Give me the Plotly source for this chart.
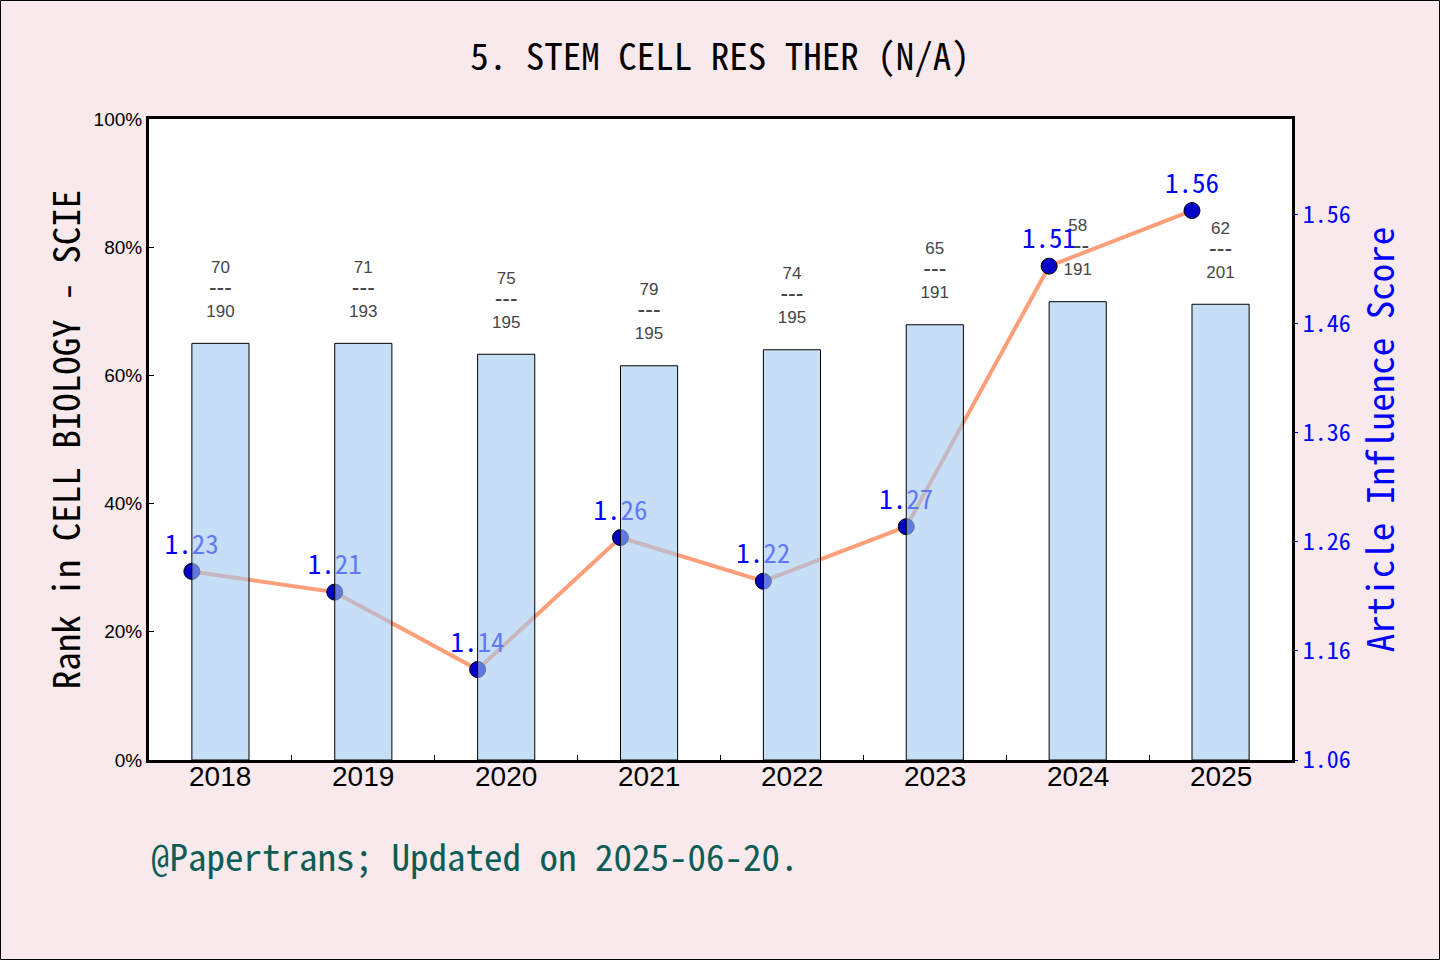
import plotly.graph_objects as go

# ---- data ----
years = ["2018", "2019", "2020", "2021", "2022", "2023", "2024", "2025"]
rank_pct = [65.0, 65.0, 63.3, 61.5, 64.0, 67.9, 71.5, 71.1]
ranks = [70, 71, 75, 79, 74, 65, 58, 62]
totals = [190, 193, 195, 195, 195, 191, 191, 201]
ais = [1.233, 1.214, 1.143, 1.264, 1.224, 1.274, 1.513, 1.564]
ais_ticks = [1.06, 1.16, 1.26, 1.36, 1.46, 1.56]
pct_ticks = [0, 20, 40, 60, 80, 100]

title_text = "5. STEM CELL RES THER (N/A)"
footer_text = "@Papertrans; Updated on 2025-06-20."

MONO = "Noto Sans Mono CJK SC, DejaVu Sans Mono, monospace"
SANS = "Liberation Sans, Arial, sans-serif"

L, R, T, B = 149, 148, 119, 200
W, H = 1440, 960
pw, ph = W - L - R, H - T - B

rank_text = [f"{r}<br><span style='font-size:23px'>---</span><br>{t}" for r, t in zip(ranks, totals)]

fig = go.Figure()

# rank fraction labels (bottom layer)
fig.add_trace(go.Scatter(
    x=years, y=rank_pct, xaxis="x", yaxis="y",
    mode="markers+text", text=rank_text, textposition="top center",
    marker=dict(size=34, opacity=0),
    textfont=dict(family=SANS, size=17, color="#454545"),
    hoverinfo="skip", showlegend=False,
))

# Article influence score line (middle layer)
fig.add_trace(go.Scatter(
    x=years, y=ais, xaxis="x2", yaxis="y2",
    mode="lines+markers+text",
    line=dict(color="#ff9f7a", width=4),
    marker=dict(size=16, color="#0000c8", line=dict(color="black", width=1)),
    texttemplate="%{y:.2f}", textposition="top center",
    textfont=dict(family=MONO, size=27, color="#0000ff"),
    showlegend=False,
))

# rank bars (top layer, semi transparent)
fig.add_trace(go.Bar(
    x=years, y=rank_pct, xaxis="x3", yaxis="y3",
    width=0.4,
    marker=dict(color="rgba(160,200,240,0.6)", line=dict(color="black", width=1)),
    showlegend=False,
))

# year labels placed on the category axis (index of each category)
year_annots = [dict(
    text=yr, x=i, xref="x", y=0, yref="paper", yanchor="middle", yshift=-16,
    showarrow=False, font=dict(family=SANS, size=28, color="black"),
) for i, yr in enumerate(years)]

fig.update_layout(
    width=W, height=H,
    margin=dict(l=L, r=R, t=T, b=B),
    paper_bgcolor="#f8e9ec",
    plot_bgcolor="white",
    title=dict(text=title_text, x=0.5, xanchor="center", y=1 - 57 / H, yanchor="middle",
               yref="container", font=dict(family=MONO, size=37, color="black")),
    xaxis=dict(
        type="category", categoryarray=years, range=[-0.5, 7.5],
        showline=True, linewidth=3, linecolor="black", mirror=True,
        ticks="inside", tickson="boundaries", ticklen=5, tickcolor="black",
        showticklabels=False,
        showgrid=False, zeroline=False, anchor="y",
    ),
    yaxis=dict(range=[0, 100], visible=False, showgrid=False, zeroline=False),
    xaxis2=dict(
        type="category", categoryarray=years, range=[-0.3, 7.7],
        overlaying="x", visible=False, showgrid=False, zeroline=False,
    ),
    yaxis2=dict(
        overlaying="y", side="right", anchor="x2", range=[1.06, 1.648],
        tickvals=ais_ticks, tickformat=".2f",
        ticks="outside", ticklen=3, tickcolor="blue",
        tickfont=dict(family=MONO, size=24, color="blue"),
        showline=True, linewidth=3, linecolor="black",
        showgrid=False, zeroline=False,
        title=dict(text="Article Influence Score", standoff=5,
                   font=dict(family=MONO, size=37, color="blue")),
    ),
    xaxis3=dict(
        type="category", categoryarray=years, range=[-0.5, 7.5],
        overlaying="x", visible=False, showgrid=False, zeroline=False,
    ),
    yaxis3=dict(
        overlaying="y", side="left", anchor="x3", range=[0, 100],
        tickvals=pct_ticks, ticktext=[f"{v}%" for v in pct_ticks],
        ticks="inside", ticklen=5, tickcolor="black",
        tickfont=dict(family=SANS, size=19, color="black"),
        showline=True, linewidth=3, linecolor="black",
        showgrid=False, zeroline=False,
        title=dict(text="Rank in CELL BIOLOGY - SCIE", standoff=2,
                   font=dict(family=MONO, size=37, color="black")),
    ),
    annotations=year_annots + [dict(
        text=footer_text, xref="paper", yref="paper", x=0, y=(T + ph - 855) / ph,
        xanchor="left", yanchor="middle", showarrow=False,
        font=dict(family=MONO, size=37, color="#0d5c56"),
    )],
    shapes=[dict(
        type="rect", xref="paper", yref="paper",
        x0=-(L - 0.5) / pw, x1=1 + (R - 0.5) / pw,
        y0=-(B - 0.5) / ph, y1=1 + (T - 0.5) / ph,
        line=dict(color="black", width=1), fillcolor="rgba(0,0,0,0)", layer="below",
    )],
)

fig.write_html("out.html")
